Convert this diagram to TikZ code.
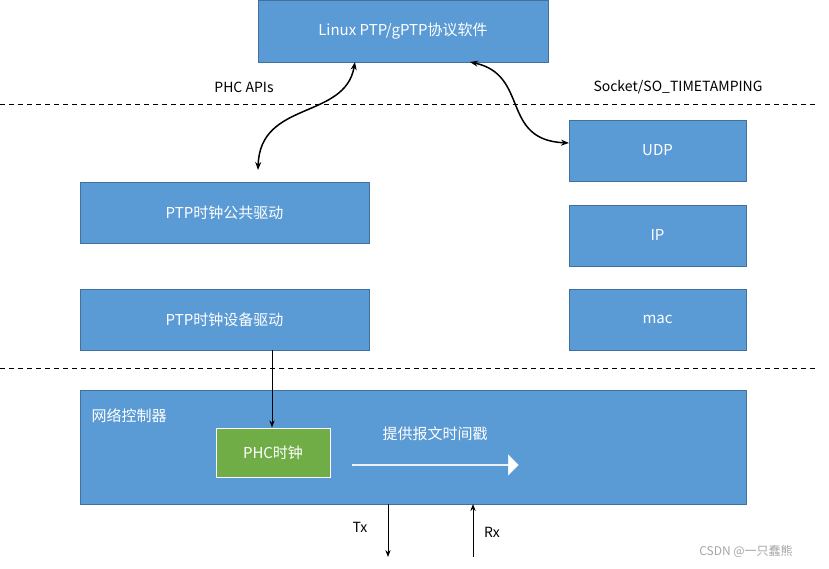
\documentclass[tikz,border=0pt]{standalone}
\usepackage{fontspec}
\setmainfont{Noto Sans CJK SC}
\usetikzlibrary{arrows.meta,shapes.arrows}
\definecolor{bx}{HTML}{5B9BD5}
\definecolor{bd}{HTML}{41719C}
\definecolor{gn}{HTML}{70AD47}
\begin{document}
\begin{tikzpicture}[x=1pt,y=-1pt,
  box/.style={draw=bd,fill=bx,line width=0.8pt,text=white,font=\fontsize{15}{18}\selectfont},
  lbl/.style={font=\fontsize{14}{17}\selectfont},
  dl/.style={dashed,line width=1pt,dash pattern=on 5pt off 4pt},
  ca/.style={{Stealth[length=8pt]}-{Stealth[length=8pt]},line width=1.5pt},
  ar/.style={-{Stealth[length=7pt]},line width=1pt}]
\useasboundingbox (0,0) rectangle (829,569);
\path[fill=white] (0,0) rectangle (829,569);
\node[box,minimum width=290pt,minimum height=62pt] (top) at (403,31) {Linux PTP/gPTP协议软件};
\draw[dl] (0,105) -- (815,105);
\draw[dl] (0,368) -- (815,368);
\node[lbl] (api) at (244,87) {PHC APIs};
\node[lbl] (sock) at (678,87) {Socket/SO\_TIMETAMPING};
\node[box,minimum width=177pt,minimum height=61pt] (udp) at (657.5,150.5) {UDP};
\node[box,minimum width=177pt,minimum height=61pt] (ip) at (657.5,235.5) {IP};
\node[box,minimum width=177pt,minimum height=61pt] (mac) at (657.5,319.5) {mac};
\node[box,minimum width=289pt,minimum height=61pt] (pub) at (224.5,212.5) {PTP时钟公共驱动};
\node[box,minimum width=289pt,minimum height=61pt] (dev) at (224.5,319.5) {PTP时钟设备驱动};
\node[box,minimum width=666pt,minimum height=114pt] (nc) at (413,447) {};
\node[text=white,font=\fontsize{15}{18}\selectfont,anchor=west] (ncl) at (88,416) {网络控制器};
\node[draw=white,fill=gn,line width=1pt,minimum width=114pt,minimum height=49pt,text=white,font=\fontsize{15}{18}\selectfont] (phc) at (273,452.5) {PHC时钟};
\node[text=white,font=\fontsize{15}{18}\selectfont] (ts) at (435,434) {提供报文时间戳};
\node[single arrow,fill=white,draw=white,minimum height=166pt,minimum width=20pt,single arrow head extend=3pt,inner sep=0pt] (wa) at (435,465) {};
\coordinate (c1) at (355,62);
\coordinate (c2) at (258,170);
\draw[ca] (c1) .. controls (345,120) and (260,100) .. (c2);
\coordinate (c3) at (470,62);
\coordinate (c4) at (569,143);
\draw[ca] (c3) .. controls (530,75) and (500,140) .. (c4);
\draw[ar] (272,350) -- (phc.north -| 272,0);
\coordinate (tx) at (388,557);
\coordinate (rx) at (473,557);
\draw[ar] (388,504) -- (tx);
\draw[ar] (rx) -- (473,504);
\node[lbl] (txl) at (360,527) {Tx};
\node[lbl] (rxl) at (492,532) {Rx};
\node[text=gray!70,font=\fontsize{12}{14}\selectfont] (wm) at (746,551) {CSDN @一只蠢熊};
\end{tikzpicture}
\end{document}
